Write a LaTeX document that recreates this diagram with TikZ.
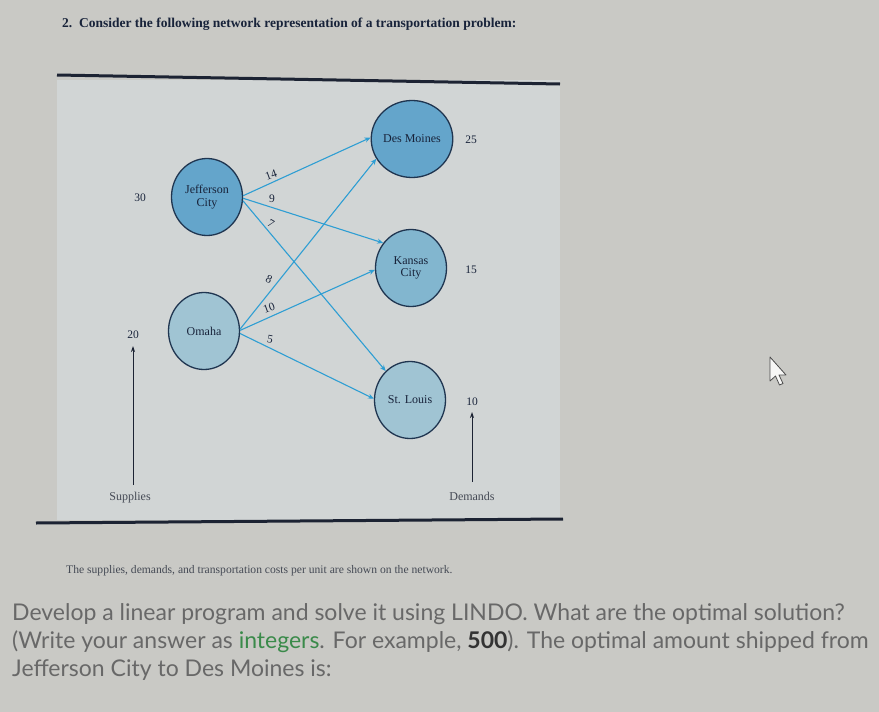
\documentclass[tikz,border=0pt]{standalone}
\usepackage{fontspec}
\setmainfont{Liberation Serif}
\newfontfamily\latofont{Lato}
\usetikzlibrary{arrows.meta,shapes.geometric}
\definecolor{bgc}{HTML}{C9C9C5}
\definecolor{panel}{HTML}{D1D5D5}
\definecolor{edgec}{HTML}{2E9ED3}
\definecolor{ringc}{HTML}{1F3550}
\definecolor{darkfill}{HTML}{64A5CB}
\definecolor{midfill}{HTML}{82B6CF}
\definecolor{lightfill}{HTML}{A0C4D3}
\definecolor{txtc}{HTML}{18233A}
\definecolor{rulec}{HTML}{1C2333}
\definecolor{capc}{HTML}{454A55}
\definecolor{greyc}{HTML}{686868}
\definecolor{greenc}{HTML}{3A8A4A}
\begin{document}
\begin{tikzpicture}[x=1pt,y=-1pt,
  city/.style={ellipse, draw=ringc, line width=1.3pt, minimum width=71pt, minimum height=77pt,
    inner sep=0pt, align=center, font=\fontsize{12}{12.5}\selectfont, text=txtc},
  flow/.style={draw=edgec, line width=1.1pt, -{Stealth[length=6pt,width=5pt]}},
  cost/.style={font=\fontsize{11.5}{12}\selectfont, text=txtc, inner sep=0pt},
  qty/.style={font=\fontsize{11.5}{12}\selectfont, text=txtc, inner sep=0pt},
  lbl/.style={font=\fontsize{12}{13}\selectfont, text=capc, inner sep=0pt},
  rulestyle/.style={draw=rulec, line width=3pt},
  supply/.style={draw=rulec, line width=0.9pt, -{Stealth[length=6pt,width=4pt]}},
  body/.style={font=\latofont\fontsize{23}{26}\selectfont, text=greyc, inner sep=0pt, anchor=base west}]
\useasboundingbox (0,0) rectangle (879,712);
\fill[bgc] (0,0) rectangle (879,712);
\fill[panel] (57,80) rectangle (560,520);

\node[font=\fontsize{13.5}{15}\selectfont\bfseries, text=txtc, anchor=west, inner sep=0pt] (title) at (62,24)
  {2.\ \ Consider the following network representation of a transportation problem:};

\coordinate (rtl) at (57,75); \coordinate (rtr) at (560,84);
\draw[rulestyle] (rtl) -- (rtr);
\coordinate (rbl) at (36,523); \coordinate (rbr) at (563,519);
\draw[rulestyle] (rbl) -- (rbr);

\node[city, fill=darkfill] (J) at (207,197) {Jefferson\\City};
\node[city, fill=lightfill] (O) at (204,331) {Omaha};
\node[city, fill=darkfill] (DM) at (412,139) {Des Moines};
\node[city, fill=midfill] (KC) at (411,268) {Kansas\\City};
\node[city, fill=lightfill] (SL) at (410,400) {St. Louis};

\draw[flow] (J.2) -- (DM.178);
\draw[flow] (J.-2) -- (KC.138);
\draw[flow] (J.-6) -- (SL.130);
\draw[flow] (O.3) -- (DM.209);
\draw[flow] (O.1) -- (KC.183);
\draw[flow] (O.-4) -- (SL.178);

\node[cost, rotate=20] (c14) at (271,175) {14};
\node[cost] (c9) at (272,199) {9};
\node[cost, rotate=-30] (c7) at (271,224) {7};
\node[cost, rotate=-25] (c8) at (269,279) {8};
\node[cost, rotate=20] (c10) at (269,308) {10};
\node[cost, rotate=-10] (c5) at (270,339) {5};

\node[qty] (s30) at (140,198) {30};
\node[qty] (s20) at (133,335) {20};
\node[qty] (d25) at (471,140) {25};
\node[qty] (d15) at (471,270) {15};
\node[qty] (d10) at (472,402) {10};

\node[lbl] (sup) at (130,498) {Supplies};
\node[lbl] (dem) at (472,496) {Demands};
\coordinate (supb) at (133,485);
\coordinate (supt) at (133,346);
\draw[supply] (supb) -- (supt);
\coordinate (demb) at (472,482);
\coordinate (demt) at (472,412);
\draw[supply] (demb) -- (demt);

\node[font=\fontsize{11.6}{13}\selectfont, text=capc, anchor=west, inner sep=0pt] (cap) at (66,571)
  {The supplies, demands, and transportation costs per unit are shown on the network.};

\node[body] (l1) at (12,620) {Develop a linear program and solve it using LINDO. What are the optimal solution?};
\node[body] (l2) at (12,648) {(Write your answer as \textcolor{greenc}{integers}. For example, \textcolor{black!80}{\bfseries 500}). The optimal amount shipped from};
\node[body] (l3) at (12,676) {Jefferson City to Des Moines is:};

\draw[draw=black!70, line width=0.8pt, fill=white!85!bgc, line join=round]
  (770,357) -- (770,381) -- (775.5,376) -- (779.5,385) -- (783,383.5) -- (779,375) -- (786,375) -- cycle;
\end{tikzpicture}
\end{document}
